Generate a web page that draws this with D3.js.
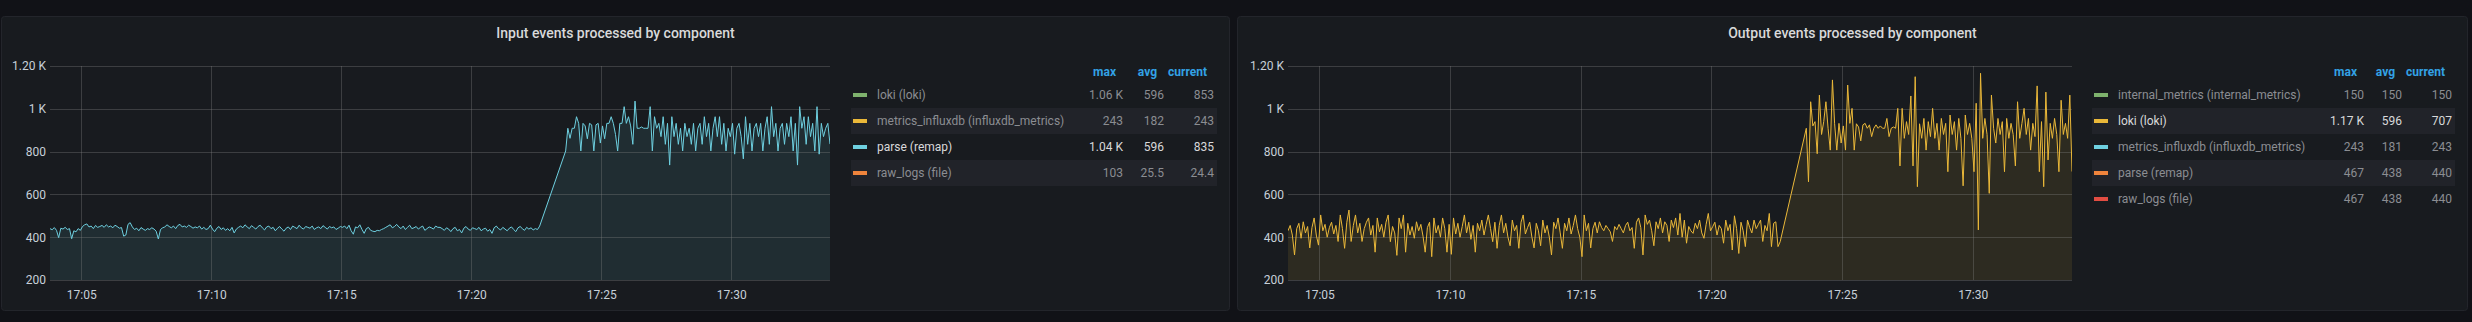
<!DOCTYPE html>
<html>
<head>
<meta charset="utf-8">
<script src="https://cdn.jsdelivr.net/npm/d3@7/dist/d3.min.js"></script>
<style>
  html, body { margin: 0; padding: 0; background: #111217; }
  svg text { font-family: Roboto, "Noto Sans", sans-serif; }
</style>
</head>
<body>
<svg id="chart" width="2472" height="322"></svg>
<script>
// ---- time range (5 s samples) ----
const timeStart = new Date(2021, 5, 14, 17, 3, 48);
const timeEnd = new Date(2021, 5, 14, 17, 33, 48);
const stepSeconds = 5;

// ---- y axis ----
const yDomain = [200, 1200];
const yTicks = [200, 400, 600, 800, 1000, 1200];
const yTickLabels = ["200", "400", "600", "800", "1 K", "1.20 K"];

// ---- legend ----
const statHeaders = ["max", "avg", "current"];
const seriesColors = ["#7eb26d", "#eab839", "#6ed0e0", "#ef843c", "#e24d42"];

const inputNames = ["loki (loki)", "metrics_influxdb (influxdb_metrics)", "parse (remap)", "raw_logs (file)"];
const inputMax = ["1.06 K", "243", "1.04 K", "103"];
const inputAvg = ["596", "182", "596", "25.5"];
const inputCurrent = ["853", "243", "835", "24.4"];

const outputNames = ["internal_metrics (internal_metrics)", "loki (loki)", "metrics_influxdb (influxdb_metrics)", "parse (remap)", "raw_logs (file)"];
const outputMax = ["150", "1.17 K", "243", "467", "467"];
const outputAvg = ["150", "596", "181", "438", "438"];
const outputCurrent = ["150", "707", "243", "440", "440"];

// ---- parse (remap) input events/s, before and after the collection gap ----
const parseBefore = [
  440, 435, 445, 432, 398, 442, 438, 446, 436, 440,
  393, 430, 425, 440, 432, 450, 458, 462, 448, 452,
  440, 455, 446, 450, 455, 446, 458, 448, 452, 444,
  456, 450, 442, 445, 405, 410, 460, 468, 448, 436,
  442, 430, 445, 438, 432, 440, 436, 444, 438, 428,
  392, 436, 444, 448, 458, 450, 444, 452, 440, 455,
  460, 448, 452, 446, 456, 450, 442, 448, 444, 452,
  438, 446, 436, 440, 456, 438, 426, 442, 450, 436,
  444, 432, 440, 430, 446, 420, 438, 446, 452, 444,
  458, 448, 440, 454, 446, 438, 450, 456, 444, 434,
  448, 452, 440, 446, 430, 442, 450, 438, 428, 442,
  448, 436, 452, 446, 440, 456, 444, 438, 450, 446,
  442, 452, 436, 444, 448, 440, 454, 446, 438, 450,
  444, 448, 436, 442, 450, 446, 452, 440, 456, 430,
  414, 448, 444, 458, 436, 418, 440, 446, 432, 428,
  426, 432, 430, 436, 440, 446, 452, 458, 444, 450,
  460, 448, 440, 452, 436, 446, 456, 440, 444, 450,
  438, 446, 452, 432, 440, 448, 444, 438, 452, 446,
  446, 440, 432, 444, 438, 426, 440, 446, 430, 436,
  420, 442, 450, 438, 432, 444, 440, 436, 446, 430,
  438, 442, 428, 436, 418, 444, 452, 440, 434, 446,
  438, 430, 442, 448, 436, 426, 444, 450, 440, 432,
  446, 438, 444, 434, 440, 436, 452
];
const parseAfter = [
  803, 909, 862, 909, 909, 963, 932, 803, 932, 920,
  860, 932, 925, 803, 925, 932, 840, 920, 860, 932,
  932, 963, 932, 880, 803, 932, 932, 1010, 932, 963,
  920, 834, 1036, 909, 909, 915, 909, 909, 909, 1010,
  803, 963, 909, 932, 870, 963, 834, 932, 737, 963,
  870, 932, 834, 909, 803, 932, 870, 909, 834, 932,
  803, 909, 932, 834, 963, 870, 932, 803, 909, 963,
  870, 963, 834, 932, 803, 909, 870, 932, 788, 909,
  932, 870, 766, 963, 834, 932, 803, 909, 932, 870,
  932, 803, 909, 963, 834, 1010, 870, 932, 803, 909,
  932, 834, 932, 870, 963, 803, 932, 737, 1010, 909,
  963, 834, 963, 870, 932, 803, 1010, 788, 932, 870,
  909, 932, 835
];

// ---- loki (loki) output events/s, before and after the collection gap ----
const lokiBefore = [
  430, 455, 410, 317, 440, 465, 395, 472, 420, 450,
  350, 445, 490, 410, 363, 504, 430, 460, 400, 445,
  470, 415, 455, 380, 504, 440, 348, 470, 527, 380,
  455, 504, 420, 465, 380, 440, 470, 490, 410, 455,
  330, 490, 425, 460, 400, 470, 504, 379, 450, 420,
  315, 490, 440, 504, 330, 465, 410, 450, 395, 472,
  430, 460, 405, 330, 445, 470, 309, 490, 420, 455,
  400, 490, 440, 330, 460, 320, 490, 415, 465, 400,
  450, 504, 420, 470, 390, 455, 330, 465, 430, 480,
  410, 460, 504, 440, 379, 470, 348, 455, 504, 420,
  465, 400, 360, 480, 430, 455, 348, 470, 504, 415,
  445, 470, 400, 350, 465, 430, 360, 480, 420, 455,
  400, 317, 470, 440, 490, 420, 348, 465, 430, 490,
  415, 455, 504, 440, 400, 309, 504, 430, 465, 350,
  440, 470, 420, 472, 445, 430, 455, 440, 425, 380,
  450, 435, 460, 440, 420, 455, 470, 430, 445, 348,
  470, 490, 445, 317, 504, 460, 480, 430, 360, 472,
  440, 490, 420, 472, 455, 380, 480, 445, 490, 410,
  511, 400, 480, 372, 450, 430, 418, 465, 440, 480,
  420, 395, 460, 511, 430, 449, 470, 410, 455, 440,
  372, 480, 430, 460, 340, 500, 440, 324, 470, 430,
  356, 480, 445, 420, 480, 440, 460, 480, 380, 455,
  430, 511, 356, 465, 472, 356, 379
];
const lokiAfter = [
  909, 659, 1033, 920, 940, 790, 1064, 880, 940, 1033,
  909, 807, 1135, 930, 807, 932, 840, 920, 807, 1111,
  932, 1002, 807, 930, 915, 850, 925, 932, 909, 925,
  870, 909, 925, 909, 920, 909, 909, 955, 870, 909,
  915, 909, 1002, 733, 1002, 862, 940, 880, 1060, 733,
  1150, 636, 930, 862, 955, 807, 940, 870, 1002, 862,
  932, 807, 955, 880, 932, 706, 971, 880, 940, 807,
  955, 862, 640, 971, 880, 932, 862, 706, 1026, 434,
  1166, 862, 955, 880, 605, 1064, 909, 840, 955, 880,
  940, 706, 955, 862, 932, 880, 733, 1033, 862, 932,
  1002, 880, 955, 807, 932, 870, 1107, 706, 940, 636,
  1078, 761, 932, 862, 955, 880, 706, 1040, 880, 932,
  862, 1064, 707
];

// ---- panels ----
const panels = [
  {
    title: "Input events processed by component",
    box: { x: 1.5, y: 16.5, w: 1228, h: 294 },
    plot: { left: 50, right: 830, top: 66, bottom: 280 },
    legend: { rowLeft: 851, rowRight: 1217, swatchX: 853, labelX: 877, cols: [1123, 1164, 1214] },
    names: inputNames, stats: [inputMax, inputAvg, inputCurrent],
    shown: 2, before: parseBefore, after: parseAfter
  },
  {
    title: "Output events processed by component",
    box: { x: 1237.5, y: 16.5, w: 1230, h: 294 },
    plot: { left: 1288, right: 2072, top: 66, bottom: 280 },
    legend: { rowLeft: 2092, rowRight: 2455, swatchX: 2094, labelX: 2118, cols: [2364, 2402, 2452] },
    names: outputNames, stats: [outputMax, outputAvg, outputCurrent],
    shown: 1, before: lokiBefore, after: lokiAfter
  }
];

const svg = d3.select("#chart");
const fmtTime = d3.timeFormat("%H:%M");

panels.forEach((p, pi) => {
  const g = svg.append("g");

  g.append("rect")
    .attr("x", p.box.x).attr("y", p.box.y)
    .attr("width", p.box.w).attr("height", p.box.h)
    .attr("rx", 3)
    .attr("fill", "#181b1f")
    .attr("stroke", "#23252b");

  g.append("text")
    .attr("x", p.box.x + p.box.w / 2).attr("y", 38)
    .attr("text-anchor", "middle")
    .attr("font-size", 14).attr("font-weight", 500)
    .attr("fill", "#d8d9da")
    .text(p.title);

  const x = d3.scaleTime().domain([timeStart, timeEnd]).range([p.plot.left, p.plot.right]);
  const y = d3.scaleLinear().domain(yDomain).range([p.plot.bottom, p.plot.top]);

  // grid
  const xTicks = x.ticks(d3.timeMinute.every(5));
  const grid = g.append("g").attr("stroke", "rgba(128,128,128,0.35)").attr("stroke-width", 1);

  // series points: first block from the start, second block ending at the range end
  const color = seriesColors[p.shown];
  const pts = p.before.map((v, i) => ({ t: new Date(+timeStart + i * stepSeconds * 1000), v }))
    .concat(p.after.map((v, i) => ({ t: new Date(+timeEnd - (p.after.length - 1 - i) * stepSeconds * 1000), v })));

  const clipId = "clip" + pi;
  g.append("clipPath").attr("id", clipId)
    .append("rect")
    .attr("x", p.plot.left).attr("y", p.plot.top)
    .attr("width", p.plot.right - p.plot.left).attr("height", p.plot.bottom - p.plot.top);

  const area = d3.area().x(d => x(d.t)).y0(p.plot.bottom).y1(d => y(d.v));
  const line = d3.line().x(d => x(d.t)).y(d => y(d.v));

  g.append("path").datum(pts)
    .attr("clip-path", `url(#${clipId})`)
    .attr("d", area)
    .attr("fill", color).attr("fill-opacity", 0.1);

  grid.selectAll("line.h").data(yTicks).join("line")
    .attr("class", "h")
    .attr("x1", p.plot.left).attr("x2", p.plot.right)
    .attr("y1", d => Math.round(y(d)) + 0.5).attr("y2", d => Math.round(y(d)) + 0.5);
  grid.selectAll("line.v").data(xTicks).join("line")
    .attr("class", "v")
    .attr("x1", d => Math.round(x(d)) + 0.5).attr("x2", d => Math.round(x(d)) + 0.5)
    .attr("y1", p.plot.top).attr("y2", p.plot.bottom);
  grid.raise();

  g.append("path").datum(pts)
    .attr("clip-path", `url(#${clipId})`)
    .attr("d", line)
    .attr("fill", "none")
    .attr("stroke", color).attr("stroke-width", 1);

  // y axis labels
  const yAxis = d3.axisLeft(y).tickValues(yTicks).tickSize(0).tickPadding(4)
    .tickFormat((d, i) => yTickLabels[i]);
  const ya = g.append("g").attr("transform", `translate(${p.plot.left},0)`).call(yAxis);
  ya.select(".domain").remove();
  ya.selectAll("text").attr("font-size", 12).attr("fill", "#c7d0d9").attr("font-family", "Roboto");

  // x axis labels
  const xAxis = d3.axisBottom(x).tickValues(xTicks).tickSize(0).tickPadding(10).tickFormat(fmtTime);
  const xa = g.append("g").attr("transform", `translate(0,${p.plot.bottom})`).call(xAxis);
  xa.select(".domain").remove();
  xa.selectAll("text").attr("font-size", 12).attr("fill", "#c7d0d9").attr("font-family", "Roboto");

  // legend table
  const L = p.legend;
  const rowY = i => 95 + i * 26;
  statHeaders.forEach((h, ci) => {
    g.append("text")
      .attr("x", L.cols[ci] - 7).attr("y", 76)
      .attr("text-anchor", "end")
      .attr("font-size", 12).attr("font-weight", 700)
      .attr("fill", "#33a2e5")
      .text(h);
  });
  p.names.forEach((name, ri) => {
    const cy = rowY(ri);
    const active = ri === p.shown;
    if (ri % 2 === 1) {
      g.append("rect")
        .attr("x", L.rowLeft).attr("y", cy - 13)
        .attr("width", L.rowRight - L.rowLeft).attr("height", 26)
        .attr("fill", "#212329");
    }
    g.append("rect")
      .attr("x", L.swatchX).attr("y", cy - 2)
      .attr("width", 14).attr("height", 4)
      .attr("fill", seriesColors[ri]);
    const tc = active ? "#d8d9da" : "#8b8d92";
    g.append("text")
      .attr("x", L.labelX).attr("y", cy + 4)
      .attr("font-size", 12).attr("fill", tc)
      .text(name);
    p.stats.forEach((col, ci) => {
      g.append("text")
        .attr("x", L.cols[ci]).attr("y", cy + 4)
        .attr("text-anchor", "end")
        .attr("font-size", 12).attr("fill", tc)
        .text(col[ri]);
    });
  });
});
</script>
</body>
</html>
